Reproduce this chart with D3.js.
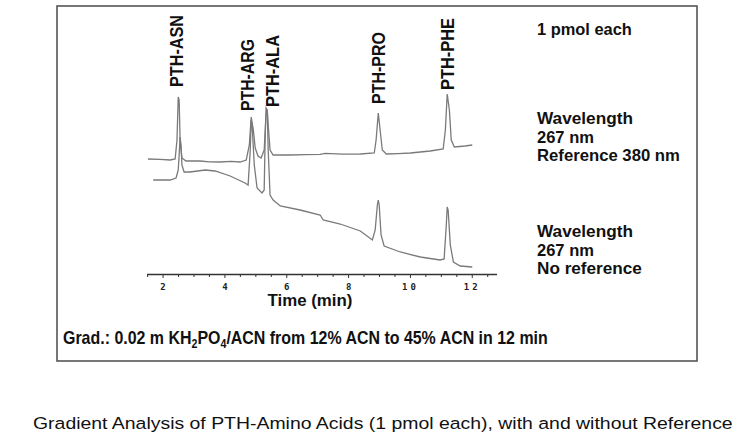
<!DOCTYPE html>
<html>
  <head>
    <meta charset='utf-8'>
    <script src='https://d3js.org/d3.v7.min.js'></script>
    <style>
body {
  margin: 0;
  background: #fff;
}
.cond {
  font-family: 'Liberation Sans', Arial, sans-serif;
  font-weight: bold;
  fill: #111;
}
.tick-lbl {
  font-family: 'DejaVu Sans Mono', monospace;
  font-size: 9px;
  font-weight: bold;
  fill: #222;
}
    </style>
  </head>
  <body>
    <div id='chart'></div>
    <script>
        // time axis ticks (min)
        const majorTicks = [2, 4, 6, 8, 10, 12];
        const minorTicks = [1.5, 2.5, 3, 3.5, 4.5, 5, 5.5, 6.5, 7, 7.5, 8.5, 9, 9.5, 10.5, 11, 11.5, 12.5];

        // peaks (label, retention time)
        const peakNames = ['PTH-ASN', 'PTH-ARG', 'PTH-ALA', 'PTH-PRO', 'PTH-PHE'];
        const peakTimes = [2.43, 4.72, 5.55, 8.96, 11.19];
        const peakTops  = [89, 79, 82.5, 81, 90.5];

        // trace with reference 380 nm
        const refTime = [1.51, 1.90, 2.23, 2.39, 2.45, 2.49, 2.52, 2.55, 2.61, 2.74, 3.20, 3.5, 3.84, 4.2, 4.49, 4.69, 4.79, 4.85, 4.92, 4.98, 5.07, 5.17, 5.27, 5.33, 5.37, 5.40, 5.46, 5.56, 6.11, 6.6, 7.08, 7.24, 7.8, 8.38, 8.83, 8.89, 8.96, 9.02, 9.09, 9.22, 9.6, 10.0, 10.64, 11.06, 11.13, 11.19, 11.26, 11.32, 11.42, 11.77, 12.0];
        const refSignal = [58, 57.8, 57.5, 58, 67.5, 89, 87.5, 67.5, 58.5, 57, 57, 56.6, 56.5, 56.8, 56.5, 57.5, 65, 79, 72.5, 63.5, 59.5, 58.5, 62.5, 80, 82.5, 75, 62.5, 60, 60, 60.2, 60.3, 60.8, 60.4, 60.5, 61, 67.5, 81, 72.5, 62.5, 60.5, 60.7, 61, 62, 63, 72.5, 90.5, 82.5, 67.5, 64, 64.5, 65];

        // trace without reference
        const noRefTime = [1.68, 2.23, 2.42, 2.49, 2.52, 2.55, 2.58, 2.61, 2.68, 2.87, 3.36, 3.68, 4.17, 4.65, 4.75, 4.82, 4.85, 4.88, 4.95, 5.04, 5.20, 5.27, 5.30, 5.33, 5.37, 5.40, 5.46, 5.56, 5.79, 6.43, 7.08, 7.18, 7.73, 8.38, 8.77, 8.86, 8.93, 8.96, 8.99, 9.05, 9.15, 9.67, 10.32, 10.96, 11.09, 11.16, 11.19, 11.22, 11.29, 11.39, 11.61, 12.0];
        const noRefSignal = [47.5, 47.5, 48.5, 52.5, 60, 69, 65, 55, 51.5, 51.5, 52.5, 52, 49.5, 46, 45, 62.5, 77.5, 75, 55, 43.5, 41, 42.5, 67.5, 83.5, 82.5, 62.5, 40, 37.5, 34.5, 32.5, 30, 27.5, 25.5, 22, 17.5, 22.5, 35, 37.5, 35, 20, 14.5, 11.5, 9, 7.5, 8, 25, 34, 32.5, 15, 6.5, 4.5, 4];

        const sideNotes = [
            ['1 pmol each'],
            ['Wavelength', '267 nm', 'Reference 380 nm'],
            ['Wavelength', '267 nm', 'No reference']
        ];
        const sideWidths = [[95], [96, 57, 143], [96, 57, 105]];

        const width = 737, height = 442;
        const svg = d3.select('#chart').append('svg')
            .attr('width', width)
            .attr('height', height);

        const x = d3.scaleLinear().domain([1.48, 12.8]).range([147, 497]);
        const y = d3.scaleLinear().domain([0, 100]).range([275, 75]);

        // squeeze a text horizontally to a width (condensed look)
        function fit(sel, w) {
            sel.each(function() {
                const bb = this.getBBox();
                const sx = w / bb.width;
                const x0 = +this.getAttribute('x');
                d3.select(this).attr('transform', 'translate(' + (x0 * (1 - sx)) + ',0) scale(' + sx + ',1)');
            });
        }

        // frame
        svg.append('rect')
            .attr('x', 57).attr('y', 6)
            .attr('width', 640).attr('height', 355)
            .style('fill', 'none')
            .style('stroke', '#555')
            .style('stroke-width', 1.6);

        // traces
        const line = d3.line()
            .x(d => x(d[0]))
            .y(d => y(d[1]));

        [[refTime, refSignal], [noRefTime, noRefSignal]].forEach(function(tr) {
            svg.append('path')
                .datum(d3.zip(tr[0], tr[1]))
                .attr('d', line)
                .style('fill', 'none')
                .style('stroke', '#7a7a7a')
                .style('stroke-width', 1.3);
        });

        // peak labels
        const labelGap = [10, 6, 3, 9, 4];
        svg.selectAll('.peak-lbl')
            .data(peakNames)
            .enter().append('text')
            .attr('class', 'cond peak-lbl')
            .attr('transform', (d, i) => 'translate(' + x(peakTimes[i]) + ',' + (y(peakTops[i]) - labelGap[i]) + ') rotate(-90)')
            .attr('dy', '0.36em')
            .attr('text-anchor', 'start')
            .attr('textLength', 72)
            .attr('lengthAdjust', 'spacingAndGlyphs')
            .style('font-size', '18px')
            .text(d => d);

        // time axis
        const axis = svg.append('g');
        axis.append('line')
            .attr('x1', x.range()[0]).attr('x2', x.range()[1])
            .attr('y1', 274.5).attr('y2', 274.5)
            .style('stroke', '#333')
            .style('stroke-width', 1.5);
        axis.selectAll('.minor').data(minorTicks).enter().append('line')
            .attr('x1', d => x(d)).attr('x2', d => x(d))
            .attr('y1', 274.5).attr('y2', 277)
            .style('stroke', '#333');
        axis.selectAll('.major').data(majorTicks).enter().append('line')
            .attr('x1', d => x(d)).attr('x2', d => x(d))
            .attr('y1', 274.5).attr('y2', 278)
            .style('stroke', '#333');
        axis.selectAll('.tick-lbl').data(majorTicks).enter().append('text')
            .attr('class', 'tick-lbl')
            .attr('x', d => x(d))
            .attr('y', 290)
            .attr('text-anchor', 'middle')
            .style('letter-spacing', d => d >= 10 ? '3px' : '0px')
            .text(d => d);

        svg.append('text')
            .attr('class', 'cond')
            .attr('x', 310).attr('y', 306)
            .attr('text-anchor', 'middle')
            .style('font-size', '16.5px')
            .text('Time (min)')
            .call(fit, 85);

        // right side notes
        const noteY = [35, 124, 237];
        sideNotes.forEach(function(block, b) {
            block.forEach(function(s, i) {
                svg.append('text')
                    .attr('class', 'cond')
                    .attr('x', 537)
                    .attr('y', noteY[b] + i * 18.7)
                    .style('font-size', '16.5px')
                    .text(s)
                    .call(fit, sideWidths[b][i]);
            });
        });

        // gradient note
        const grad = svg.append('text')
            .attr('class', 'cond')
            .attr('x', 63).attr('y', 344)
            .style('font-size', '18px');
        grad.append('tspan').text('Grad.: 0.02 m KH');
        grad.append('tspan').attr('dy', 4).style('font-size', '12px').text('2');
        grad.append('tspan').attr('dy', -4).text('PO');
        grad.append('tspan').attr('dy', 4).style('font-size', '12px').text('4');
        grad.append('tspan').attr('dy', -4).text('/ACN from 12% ACN to 45% ACN in 12 min');
        grad.call(fit, 485);

        // caption
        svg.append('text')
            .attr('x', 33).attr('y', 429)
            .style('font-family', "'Liberation Sans', Arial, sans-serif")
            .style('font-size', '17px')
            .style('fill', '#111')
            .text('Gradient Analysis of PTH-Amino Acids (1 pmol each), with and without Reference')
            .call(fit, 700);
    </script>
  </body>
</html>
